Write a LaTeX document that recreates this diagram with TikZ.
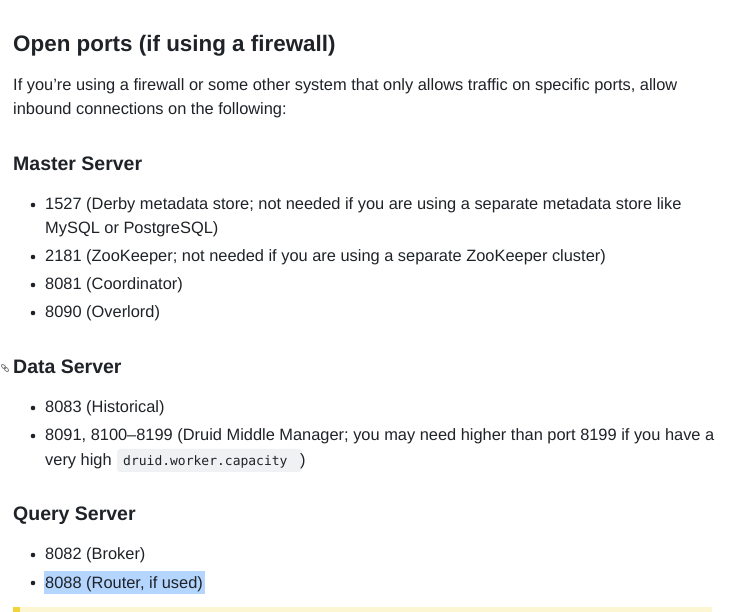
\documentclass[tikz,border=0pt]{standalone}
\usepackage{fontspec}
\setmainfont{Liberation Sans}
\setmonofont{DejaVu Sans Mono}
\definecolor{txt}{HTML}{1F2328}
\definecolor{hl}{HTML}{B4D5FE}
\definecolor{codebg}{HTML}{EFF1F3}
\definecolor{note}{HTML}{FCF6D2}
\definecolor{notebar}{HTML}{F2D33A}
\begin{document}
\begin{tikzpicture}[x=1pt,y=-1pt,
  t/.style={anchor=base west,inner sep=0pt,text=txt,font=\fontsize{16.4}{18}\selectfont},
  h2/.style={anchor=base west,inner sep=0pt,text=txt,font=\fontsize{19.5}{22}\selectfont\bfseries},
  h1/.style={anchor=base west,inner sep=0pt,text=txt,font=\fontsize{22.4}{26}\selectfont\bfseries},
  bul/.style={circle,fill=txt,inner sep=0pt,minimum size=4.6pt}]
\useasboundingbox[fill=white] (0,0) rectangle (748,612);
\fill[note] (13,607) rectangle (712,612);
\fill[notebar] (13,607) rectangle (20,612);
\fill[hl] (44,571) rectangle (205,594);
\fill[codebg,rounded corners=3pt] (117,449) rectangle (302,472);
\node[h1] (title) at (13,52) {Open ports (if using a firewall)};
\node[t] (p1) at (13,91) {If you're using a firewall or some other system that only allows traffic on specific ports, allow};
\node[t] (p2) at (13,115) {inbound connections on the following:};
\node[h2] (ms) at (13,171) {Master Server};
\node[bul] (b1) at (33,205) {};
\node[t] (m1) at (45,210) {1527 (Derby metadata store; not needed if you are using a separate metadata store like};
\node[t] (m1b) at (45,234) {MySQL or PostgreSQL)};
\node[bul] (b2) at (33,257) {};
\node[t] (m2) at (45,262) {2181 (ZooKeeper; not needed if you are using a separate ZooKeeper cluster)};
\node[bul] (b3) at (33,285) {};
\node[t] (m3) at (45,290) {8081 (Coordinator)};
\node[bul] (b4) at (33,313) {};
\node[t] (m4) at (45,318) {8090 (Overlord)};
\node[h2] (ds) at (13,374) {Data Server};
\draw[gray,line width=0.8pt,rotate around={-45:(5,368)}] (3,368) ellipse (2.6 and 1.6) (7,368) ellipse (2.6 and 1.6);
\node[bul] (b5) at (33,408) {};
\node[t] (d1) at (45,413) {8083 (Historical)};
\node[bul] (b6) at (33,436) {};
\node[t] (d2) at (45,441) {8091, 8100–8199 (Druid Middle Manager; you may need higher than port 8199 if you have a};
\node[t] (d3) at (45,466) {very high};
\node[anchor=base west,inner sep=0pt,text=txt,font=\ttfamily\fontsize{13}{15}\selectfont] (code) at (123,466) {druid.worker.capacity};
\node[t] (d4) at (300,466) {)};
\node[h2] (qs) at (13,521) {Query Server};
\node[bul] (b7) at (33,555) {};
\node[t] (q1) at (45,560) {8082 (Broker)};
\node[bul] (b8) at (33,583) {};
\node[t] (q2) at (45,588) {8088 (Router, if used)};
\end{tikzpicture}
\end{document}
